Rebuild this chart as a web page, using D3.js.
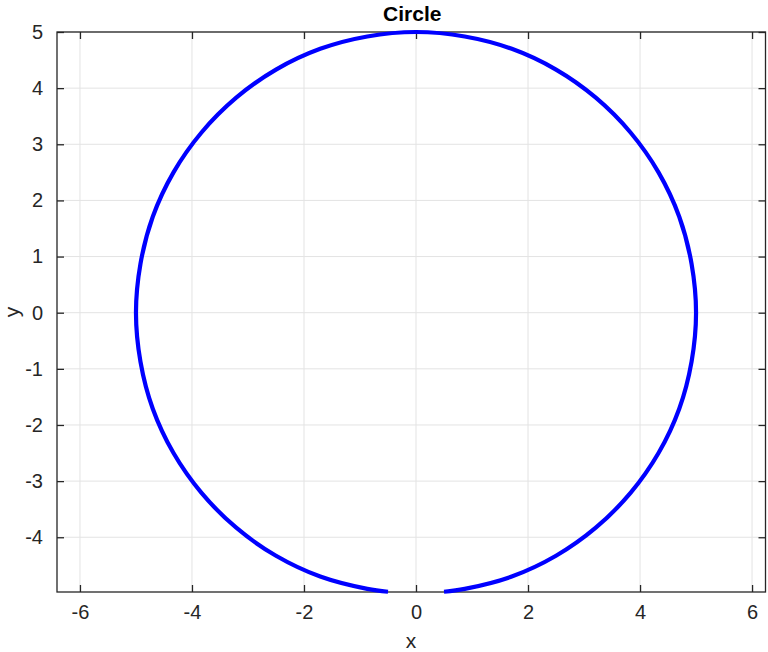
<!DOCTYPE html>
<html>
<head>
<meta charset="utf-8">
<script src="https://cdn.jsdelivr.net/npm/d3@7"></script>
<style>
  body { margin: 0; background: #fff; }
  svg { font-family: "Liberation Sans", Arial, sans-serif; }
</style>
</head>
<body>
<div id="container"></div>
<script>
// points on the curve
var xs = [0.50, 0.87, 1.71, 2.50, 3.21, 3.83, 4.33, 4.70, 4.92, 5.00,
  4.92, 4.70, 4.33, 3.83, 3.21, 2.50, 1.71, 0.87, 0.00,
  -0.87, -1.71, -2.50, -3.21, -3.83, -4.33, -4.70, -4.92, -5.00,
  -4.92, -4.70, -4.33, -3.83, -3.21, -2.50, -1.71, -0.87, -0.50];
var ys = [-4.97, -4.92, -4.70, -4.33, -3.83, -3.21, -2.50, -1.71, -0.87, 0.00,
  0.87, 1.71, 2.50, 3.21, 3.83, 4.33, 4.70, 4.92, 5.00,
  4.92, 4.70, 4.33, 3.83, 3.21, 2.50, 1.71, 0.87, 0.00,
  -0.87, -1.71, -2.50, -3.21, -3.83, -4.33, -4.70, -4.92, -4.97];
var xTicks = [-6, -4, -2, 0, 2, 4, 6];
var yTicks = [-4, -3, -2, -1, 0, 1, 2, 3, 4, 5];
var xDomain = [-6.41, 6.24];
var yDomain = [-4.975, 5];

var pageWidth = 768;
var pageHeight = 652;
var boxLeft = 57, boxTop = 32, boxRight = 765.5, boxBottom = 592;

var svg = d3.select('#container')
      .append('svg')
      .attr('width', pageWidth)
      .attr('height', pageHeight);

var x = d3.scaleLinear().domain(xDomain).range([boxLeft, boxRight]);
var y = d3.scaleLinear().domain(yDomain).range([boxBottom, boxTop]);

// grid
svg.append('g').selectAll('line')
  .data(xTicks).enter().append('line')
  .attr('x1', function(d) {return x(d);})
  .attr('x2', function(d) {return x(d);})
  .attr('y1', boxTop).attr('y2', boxBottom)
  .style('stroke', '#e3e3e3').style('stroke-width', 1);
svg.append('g').selectAll('line')
  .data(yTicks).enter().append('line')
  .attr('y1', function(d) {return y(d);})
  .attr('y2', function(d) {return y(d);})
  .attr('x1', boxLeft).attr('x2', boxRight)
  .style('stroke', '#e3e3e3').style('stroke-width', 1);

// inward ticks on all four sides
var tickLen = 7;
var axColor = '#262626';
var plain = function(d) {return String(d);};
function styleAxis(g) {
  g.select('.domain').remove();
  g.selectAll('.tick line').style('stroke', axColor).style('stroke-width', 1.3);
  g.selectAll('.tick text').style('fill', axColor).style('font-size', '20px')
    .style('font-family', '"Liberation Sans", Arial, sans-serif');
}
svg.append('g').attr('transform', 'translate(0,' + boxBottom + ')')
  .call(d3.axisBottom(x).tickValues(xTicks).tickFormat(plain).tickSizeInner(-tickLen).tickSizeOuter(0).tickPadding(13))
  .call(styleAxis);
svg.append('g').attr('transform', 'translate(0,' + boxTop + ')')
  .call(d3.axisTop(x).tickValues(xTicks).tickSizeInner(-tickLen).tickSizeOuter(0).tickFormat(''))
  .call(styleAxis);
svg.append('g').attr('transform', 'translate(' + boxLeft + ',0)')
  .call(d3.axisLeft(y).tickValues(yTicks).tickFormat(plain).tickSizeInner(-tickLen).tickSizeOuter(0).tickPadding(14))
  .call(styleAxis);
svg.append('g').attr('transform', 'translate(' + boxRight + ',0)')
  .call(d3.axisRight(y).tickValues(yTicks).tickSizeInner(-tickLen).tickSizeOuter(0).tickFormat(''))
  .call(styleAxis);

// box
svg.append('rect')
  .attr('x', boxLeft).attr('y', boxTop)
  .attr('width', boxRight - boxLeft).attr('height', boxBottom - boxTop)
  .style('fill', 'none').style('stroke', axColor).style('stroke-width', 1.3);

// curve
var pts = xs.map(function(d, i) {return [d, ys[i]];});
var line = d3.line()
  .x(function(d) {return x(d[0]);})
  .y(function(d) {return y(d[1]);})
  .curve(d3.curveCatmullRom.alpha(0.5));
svg.append('path')
  .datum(pts)
  .attr('d', line)
  .style('fill', 'none')
  .style('stroke', '#0000ff')
  .style('stroke-width', 4.2);

// labels
svg.append('text')
  .attr('x', (boxLeft + boxRight) / 2 + 1).attr('y', 21)
  .attr('text-anchor', 'middle')
  .style('font-weight', 'bold').style('font-size', '21px').style('fill', '#000')
  .text('Circle');
svg.append('text')
  .attr('x', 411).attr('y', 648)
  .attr('text-anchor', 'middle')
  .style('font-size', '21px').style('fill', axColor)
  .text('x');
svg.append('text')
  .attr('transform', 'translate(19,312) rotate(-90)')
  .attr('text-anchor', 'middle')
  .style('font-size', '21px').style('fill', axColor)
  .text('y');
</script>
</body>
</html>
